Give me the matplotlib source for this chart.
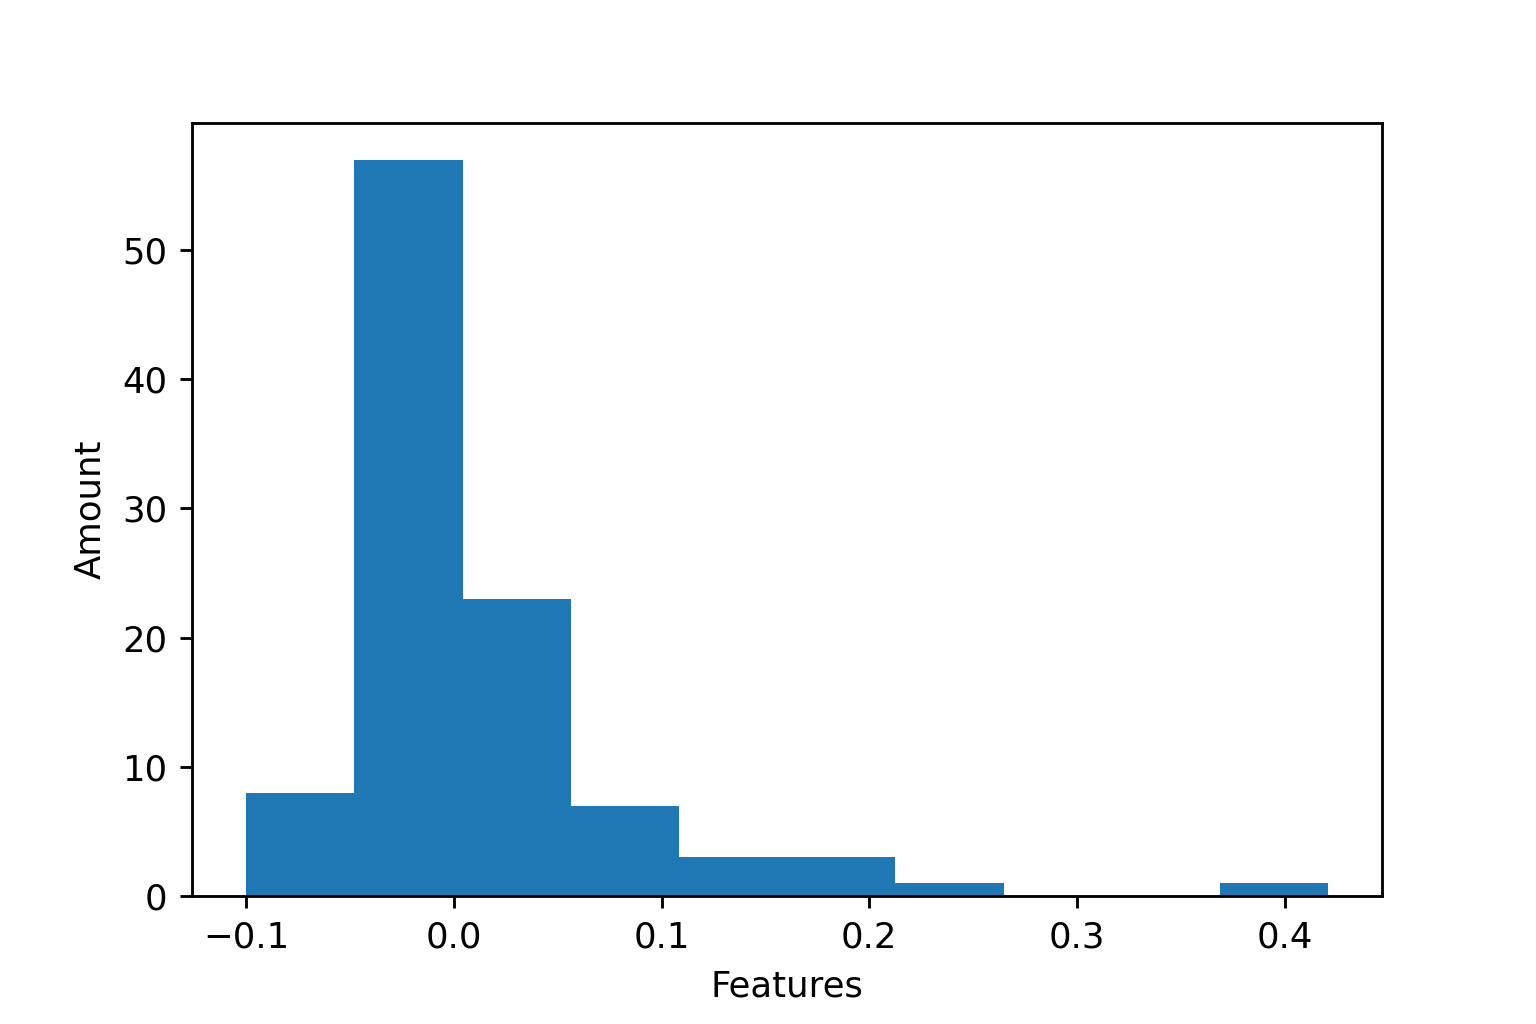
import numpy as np
import matplotlib
matplotlib.use("Agg")
import matplotlib.pyplot as plt

counts = [8, 57, 23, 7, 3, 3, 1, 0, 0, 1]
data_min = -0.1
data_max = 0.421

edges = np.linspace(data_min, data_max, len(counts) + 1)
centers = (edges[:-1] + edges[1:]) / 2

fig, ax = plt.subplots(figsize=(6, 4), dpi=256)
fig.subplots_adjust(left=0.125, right=0.9, top=0.88, bottom=0.125)
ax.hist(centers, bins=edges, weights=counts, color="#1f77b4")
ax.set_xlabel("Features")
ax.set_ylabel("Amount")
fig.savefig("out.png", dpi=256)
